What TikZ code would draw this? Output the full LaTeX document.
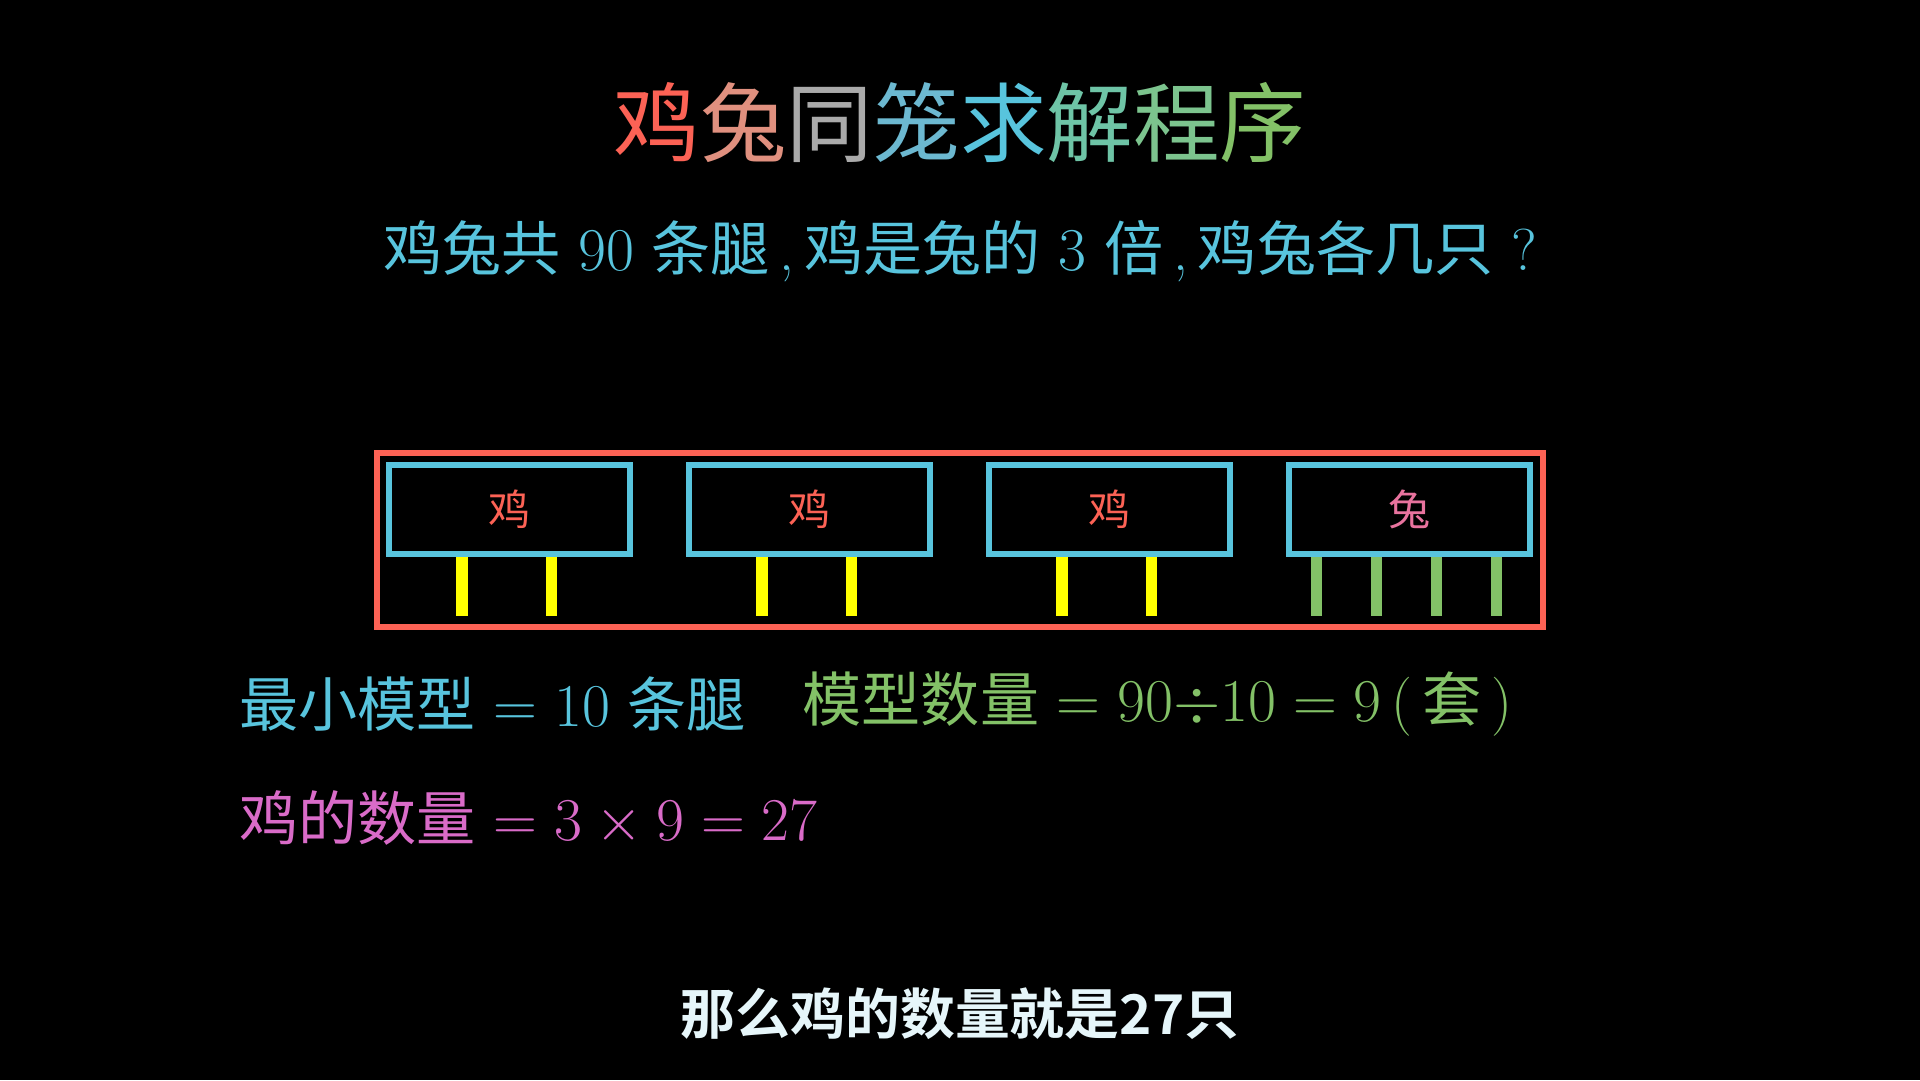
\documentclass[tikz,border=0pt]{standalone}
\usepackage{fontspec}
\newfontfamily\cjk{Noto Sans CJK SC}
\newfontfamily\cjkb{Noto Sans CJK SC Bold}
\usepackage{tikz}
\usetikzlibrary{calc}
\definecolor{mred}{HTML}{FC6255}
\definecolor{mblue}{HTML}{58C4DD}
\definecolor{mgreen}{HTML}{83C167}
\definecolor{myellow}{HTML}{FFFF00}
\definecolor{mpink}{HTML}{D96BC8}
\definecolor{rpink}{HTML}{E8739E}
\tikzset{
   cage/.style={draw=mblue,line width=1.6pt,minimum width=2.41cm,minimum height=0.89cm,inner sep=0pt},
   leg/.style={line width=3.2pt},
   line/.style={anchor=west,font=\fontsize{16.8}{20}\selectfont,inner sep=0pt},
}
\begin{document}
\begin{tikzpicture}[x=0.012245cm,y=-0.012245cm]
   \fill[black] (0,0) rectangle (1568,882);
   \useasboundingbox (0,0) rectangle (1568,882);
   % title
   \node (title) at (784,100) {\fontsize{24.6}{28}\selectfont\cjk
      \textcolor{mred}{鸡}\textcolor[HTML]{E0907F}{兔}\textcolor[HTML]{AAAAAA}{同}%
      \textcolor[HTML]{6CB8D0}{笼}\textcolor{mblue}{求}\textcolor[HTML]{6EC4A6}{解}%
      \textcolor[HTML]{7CC48E}{程}\textcolor{mgreen}{序}};
   \node[text=mblue,font=\fontsize{16.8}{20}\selectfont] (question) at (784,205)
      {{\cjk 鸡兔共} $90$ {\cjk 条腿}\,,\,{\cjk 鸡是兔的} $3$ {\cjk 倍}\,,\,{\cjk 鸡兔各几只} ?};
   % model
   \draw[mred,line width=1.6pt] (308,370) rectangle (1260,512);
   \foreach \x/\lbl/\col [count=\i] in {416/鸡/mred,661/鸡/mred,906/鸡/mred,1151/兔/rpink} {
      \node[cage,text=\col,font=\fontsize{12}{14}\selectfont\cjk] (cage\i) at (\x,416) {\lbl};
   }
   \foreach \i in {1,2,3} {
      \draw[leg,myellow] ($(cage\i.south west)+(62,0)$) -- ++(0,48);
      \draw[leg,myellow] ($(cage\i.south west)+(135,0)$) -- ++(0,48);
   }
   \foreach \dx in {25,74,123,172} {
      \draw[leg,mgreen] ($(cage4.south west)+(\dx,0)$) -- ++(0,48);
   }
   % results
   \node[line,text=mblue] (unit) at (195,575) {{\cjk 最小模型} $=10$ {\cjk 条腿}};
   \node[line,text=mgreen] (count) at (655,575) {{\cjk 模型数量} $=90{\div}10=9$\,(\,{\cjk 套}\,)};
   \node[line,text=mpink] (chick) at (195,668) {{\cjk 鸡的数量} $=3\times9=27$};
   \node[text=white!85!mblue,font=\fontsize{15.6}{18}\selectfont\cjkb] (caption) at (784,828) {那么鸡的数量就是27只};
\end{tikzpicture}
\end{document}
